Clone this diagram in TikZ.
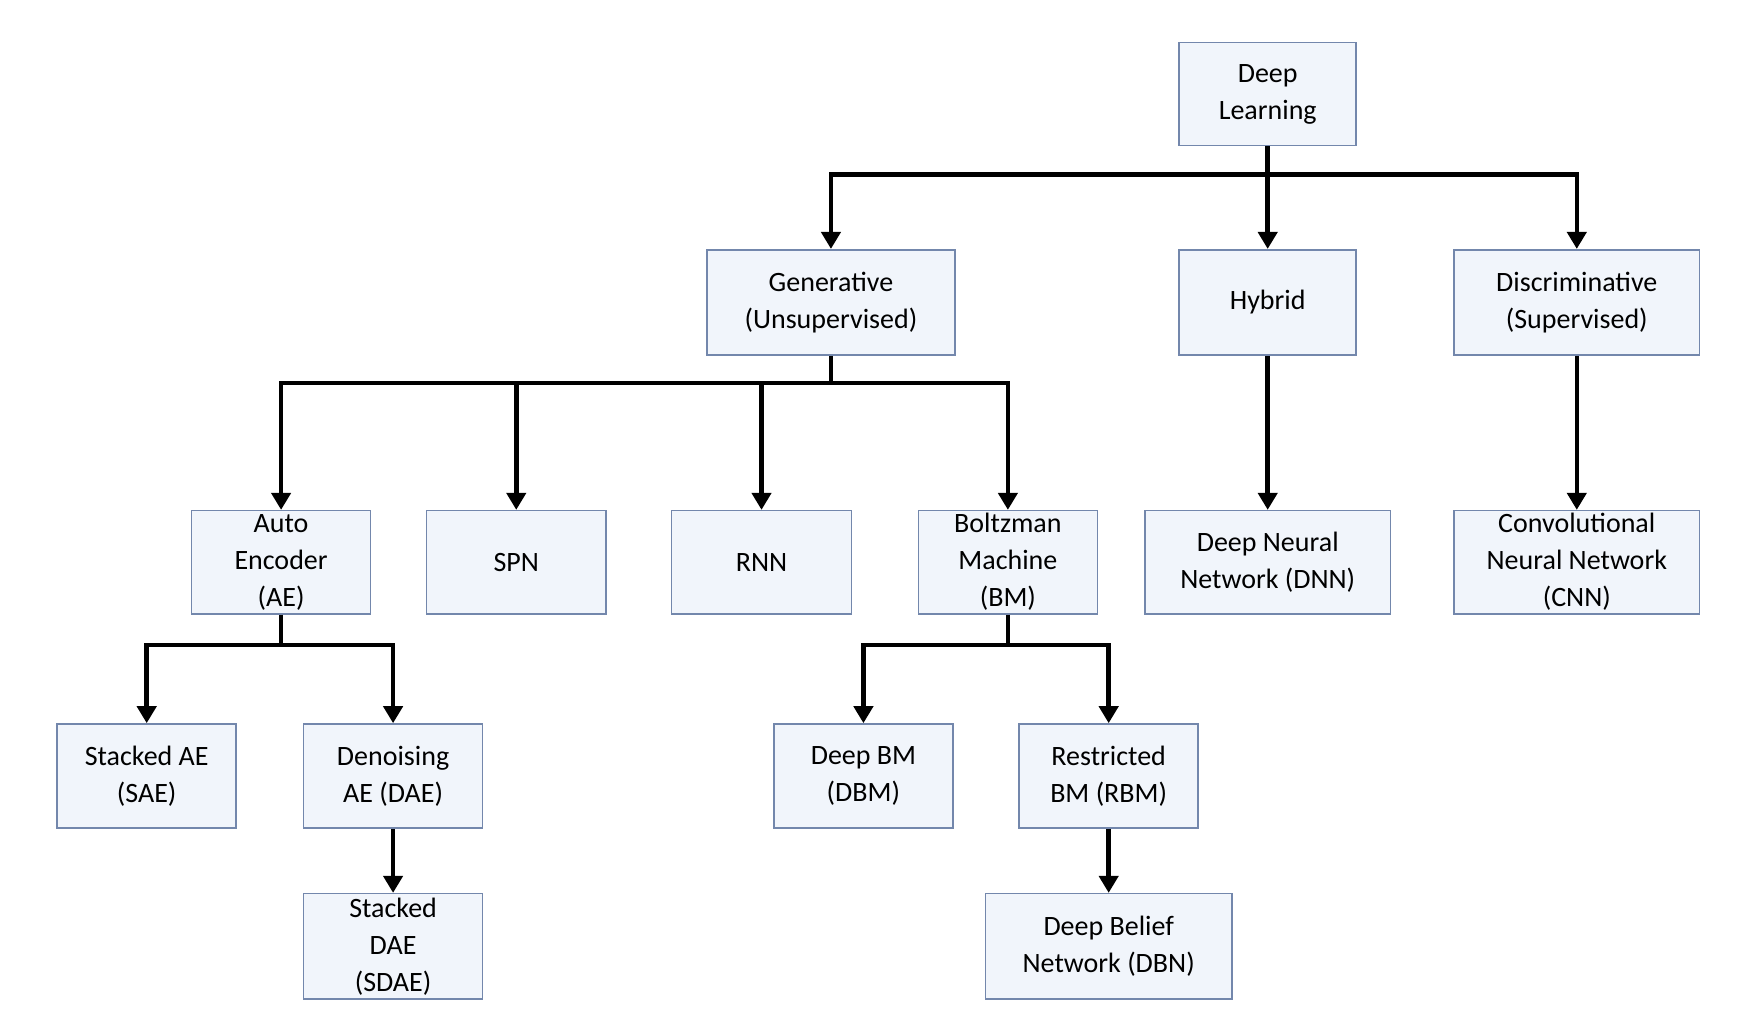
\documentclass[tikz,border=0pt]{standalone}
\usepackage{fontspec}
\setmainfont{Carlito}
\usetikzlibrary{arrows.meta}
\definecolor{bfill}{HTML}{F1F5FB}
\definecolor{bdraw}{HTML}{7387AC}
\begin{document}
\begin{tikzpicture}[x=1.12pt,y=-1.12pt,
  box/.style={draw=bdraw,line width=1.6pt,fill=bfill,align=center,inner sep=0pt,
    font=\fontsize{28}{37}\selectfont},
  arr/.style={line width=4.5pt,-{Triangle[length=17pt,width=19pt]}},
  ln/.style={line width=4.5pt}]
\useasboundingbox (4,0) rectangle (1564,910);
\newcommand{\bx}[6]{\node[box,minimum width=#4*1.12pt,minimum height=#5*1.12pt] (#1) at (#2,#3) {#6};}
\bx{dl}{1136}{84}{158}{92}{Deep\\Learning}
\bx{gen}{746}{270}{221}{94}{Generative\\(Unsupervised)}
\bx{hyb}{1136}{270}{158}{94}{Hybrid}
\bx{dis}{1412}{270}{219}{94}{Discriminative\\(Supervised)}
\bx{ae}{255}{502}{160}{92}{Auto\\Encoder\\(AE)}
\bx{spn}{465}{502}{160}{92}{SPN}
\bx{rnn}{684}{502}{161}{92}{RNN}
\bx{bm}{904}{502}{160}{92}{Boltzman\\Machine\\(BM)}
\bx{dnn}{1136}{502}{219}{92}{Deep Neural\\Network (DNN)}
\bx{cnn}{1412}{502}{219}{92}{Convolutional\\Neural Network\\(CNN)}
\bx{sae}{135}{693}{160}{93}{Stacked AE\\(SAE)}
\bx{dae}{355}{693}{160}{93}{Denoising\\AE (DAE)}
\bx{dbm}{775}{693}{160}{93}{Deep BM\\(DBM)}
\bx{rbm}{994}{693}{160}{93}{Restricted\\BM (RBM)}
\bx{sdae}{355}{845}{160}{94}{Stacked\\DAE\\(SDAE)}
\bx{dbn}{994}{845}{220}{94}{Deep Belief\\Network (DBN)}
\coordinate (b1) at (1136,156);
\coordinate (b2) at (746,342);
\coordinate (b3) at (255,576);
\coordinate (b4) at (904,576);
\draw[ln] (dl.south) -- (b1);
\draw[arr] (b1) -| (gen.north);
\draw[arr] (b1) -- (hyb.north);
\draw[arr] (b1) -| (dis.north);
\draw[ln] (gen.south) -- (b2);
\draw[arr] (b2) -| (ae.north);
\draw[arr] (b2) -| (spn.north);
\draw[arr] (b2) -| (rnn.north);
\draw[arr] (b2) -| (bm.north);
\draw[arr] (hyb.south) -- (dnn.north);
\draw[arr] (dis.south) -- (cnn.north);
\draw[ln] (ae.south) -- (b3);
\draw[arr] (b3) -| (sae.north);
\draw[arr] (b3) -| (dae.north);
\draw[arr] (dae.south) -- (sdae.north);
\draw[ln] (bm.south) -- (b4);
\draw[arr] (b4) -| (dbm.north);
\draw[arr] (b4) -| (rbm.north);
\draw[arr] (rbm.south) -- (dbn.north);
\end{tikzpicture}
\end{document}
